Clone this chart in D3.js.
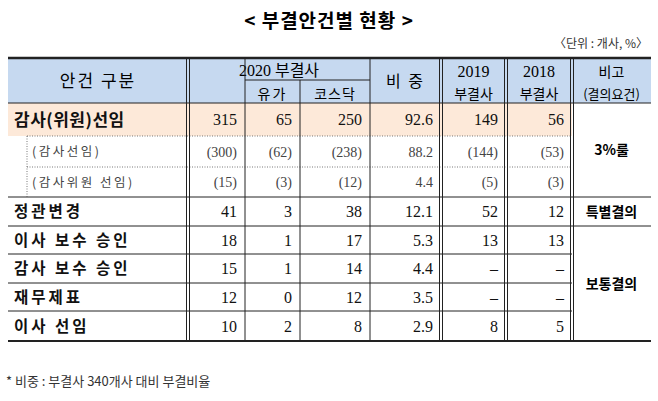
<!DOCTYPE html>
<html><head><meta charset="utf-8">
<script src="https://cdn.jsdelivr.net/npm/d3@7"></script>
<style>body{margin:0;background:#fff}</style>
</head><body><div id="chart"></div>
<script>
// table data
const title = '< 부결안건별 현황 >';
const unit = '〈단위 : 개사, %〉';
const footnote = '* 비중 : 부결사 340개사 대비 부결비율';
const rowLabels = ['감사(위원)선임', '(감사선임)', '(감사위원 선임)', '정관변경', '이사 보수 승인', '감사 보수 승인', '재무제표', '이사 선임'];
const total2020 = ['315', '(300)', '(15)', '41', '18', '15', '12', '10'];
const kospi = ['65', '(62)', '(3)', '3', '1', '1', '0', '2'];
const kosdaq = ['250', '(238)', '(12)', '38', '17', '14', '12', '8'];
const share = ['92.6', '88.2', '4.4', '12.1', '5.3', '4.4', '3.5', '2.9'];
const y2019 = ['149', '(144)', '(5)', '52', '13', '–', '–', '8'];
const y2018 = ['56', '(53)', '(3)', '12', '13', '–', '–', '5'];
const remarks = [{ text: '3%룰', from: 0, to: 2 }, { text: '특별결의', from: 3, to: 3 }, { text: '보통결의', from: 4, to: 7 }];

const W = 658, H = 401;
const svg = d3.select('#chart').append('svg').attr('width', W).attr('height', H);
const KR = "'Noto Sans CJK KR', sans-serif";
const SERIF = "'Liberation Serif', 'DejaVu Serif', serif";

// column edges and row edges
const colX = [8, 188, 245, 300, 370, 441, 506, 572, 651];
const rowY = [103, 136, 167, 197, 226, 254, 283, 311, 341];
const headTop = 58, headMid = 80;

svg.append('text').attr('x', W / 2).attr('y', 28).attr('text-anchor', 'middle')
  .style('font-family', KR).style('font-weight', 'bold').style('font-size', '19px').style('letter-spacing', '1px').text(title);
svg.append('text').attr('x', 648).attr('y', 48).attr('text-anchor', 'end')
  .style('font-family', KR).style('font-size', '12px').attr('fill', '#333').text(unit);

// backgrounds
svg.append('rect').attr('x', colX[0]).attr('y', headTop).attr('width', colX[8] - colX[0]).attr('height', rowY[0] - headTop).attr('fill', '#c6d9f0');
svg.append('rect').attr('x', colX[0]).attr('y', rowY[0]).attr('width', colX[7] - colX[0]).attr('height', rowY[1] - rowY[0]).attr('fill', '#fde9d9');

// header text
const hdr = (x, y, t, size = 15, fam = KR) => svg.append('text').attr('x', x).attr('y', y).attr('text-anchor', 'middle')
  .style('font-family', fam).style('font-size', size + 'px').text(t);
const mid = (i) => (colX[i] + colX[i + 1]) / 2;
hdr(mid(0), 87, '안건 구분', 17).style('letter-spacing', '2px');
hdr((colX[1] + colX[4]) / 2, 76, '2020 부결사', 16, "'Liberation Serif', 'Noto Sans CJK KR', serif");
hdr(mid(2), 99, '유가', 14).style('letter-spacing', '2px');
hdr(mid(3), 99, '코스닥', 14).style('letter-spacing', '1px');
hdr(mid(4), 87, '비 중', 16).style('letter-spacing', '2px');
[[5, '2019'], [6, '2018']].forEach(([i, t]) => {
  hdr(mid(i), 77, t, 16, SERIF);
  hdr(mid(i), 99, '부결사', 14);
});
hdr(mid(7), 77, '비고', 14);
hdr(mid(7), 99, '(결의요건)', 13);

// body cells
const cols = [total2020, kospi, kosdaq, share, y2019, y2018];
rowLabels.forEach((lab, r) => {
  const cy = (rowY[r] + rowY[r + 1]) / 2;
  const sub = r === 1 || r === 2;
  svg.append('text').attr('x', sub ? 32 : 14).attr('y', cy).attr('dy', '0.36em')
    .style('font-family', KR).style('font-size', r === 0 ? '17px' : sub ? '12.5px' : '15.5px')
    .style('letter-spacing', sub ? '2.5px' : r === 0 ? '0.5px' : '3px')
    .style('font-weight', sub ? 'normal' : 'bold').attr('fill', sub ? '#444' : '#111').text(lab);
  cols.forEach((col, c) => {
    svg.append('text').attr('x', colX[c + 2] - 8).attr('y', cy).attr('dy', '0.36em').attr('text-anchor', 'end')
      .style('font-family', SERIF).style('font-size', sub ? '14px' : '16px').attr('fill', sub ? '#444' : '#111').text(col[r]);
  });
});
remarks.forEach(m => {
  svg.append('text').attr('x', mid(7)).attr('y', (rowY[m.from] + rowY[m.to + 1]) / 2).attr('dy', '0.36em')
    .attr('text-anchor', 'middle').style('font-family', KR).style('font-weight', 'bold').style('font-size', '14px').text(m.text);
});

// lines
const line = (x1, y1, x2, y2, w = 1, dash = null, col = '#222') => svg.append('line')
  .attr('x1', x1).attr('y1', y1).attr('x2', x2).attr('y2', y2).attr('stroke', col).attr('stroke-width', w)
  .attr('stroke-dasharray', dash);
line(colX[0], headTop, colX[8], headTop, 2.5);
line(colX[2], headMid, colX[4], headMid, 1);
line(colX[0], rowY[0], colX[8], rowY[0], 1.2);
rowY.slice(1).forEach((y, i) => {
  const r = i + 1;
  if (r === 1 || r === 2) line(27, y, colX[7], y, 0.8, '1,1.5', '#555');
  else if (r === 8) line(colX[0], y, colX[8], y, 2);
  else line(colX[0], y, r >= 5 ? colX[7] : colX[8], y, 1);
});
line(27, rowY[1], 27, rowY[3], 0.8, '1,1.5', '#555');
// vertical lines; double ones at group boundaries
const doubles = [1, 5, 6, 7];
colX.slice(1, 8).forEach((x, k) => {
  const i = k + 1;
  const y0 = (i === 3) ? headMid : headTop;
  if (doubles.includes(i)) { line(x - 1.5, headTop, x - 1.5, rowY[8]); line(x + 1.5, headTop, x + 1.5, rowY[8]); }
  else line(x, y0, x, rowY[8]);
});

svg.append('text').attr('x', 6).attr('y', 386).style('font-family', KR).style('font-size', '13px')
  .attr('fill', '#333').text(footnote);
</script></body></html>
